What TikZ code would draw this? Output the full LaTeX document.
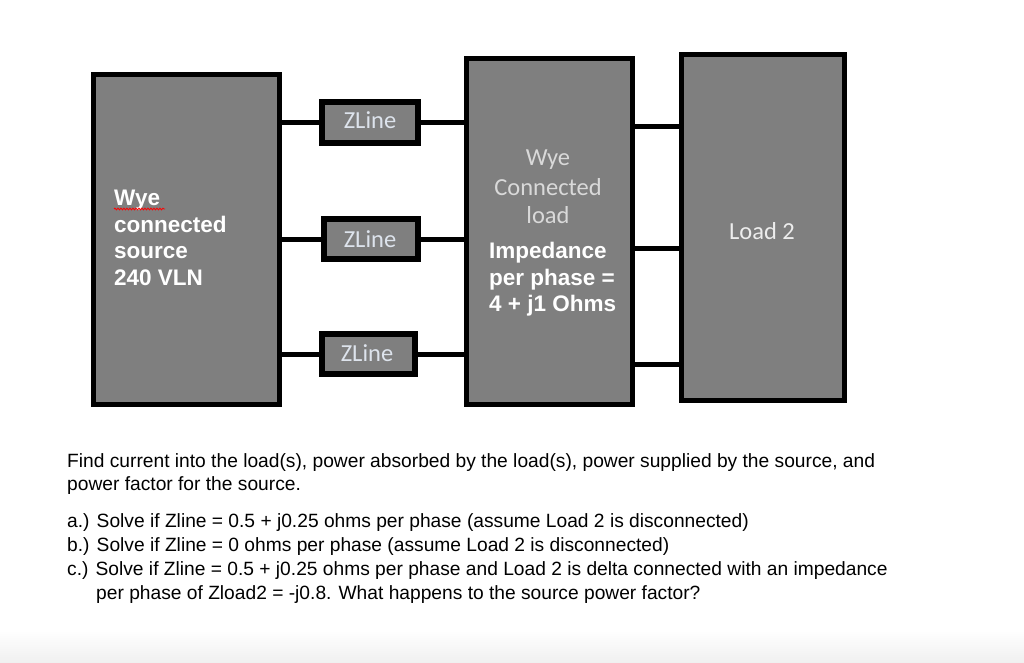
\documentclass[tikz,border=0pt]{standalone}
\usepackage{fontspec}
\setmainfont{Liberation Sans}
\newfontfamily\carl{Carlito}
\usetikzlibrary{decorations.pathmorphing}
\definecolor{boxgray}{HTML}{7F7F7F}
\definecolor{zltxt}{HTML}{DDE3EC}
\definecolor{midtxt}{HTML}{D9D9D9}
\begin{document}
\begin{tikzpicture}[x=1pt,y=-1pt,
  bigbox/.style={draw=black,line width=5pt,fill=boxgray,rectangle,inner sep=0pt},
  zbox/.style={draw=black,line width=6pt,fill=boxgray,rectangle,inner sep=0pt},
  wire/.style={draw=black,line width=5pt},
  boldtxt/.style={anchor=base west,inner sep=0pt,text=white,font=\bfseries\fontsize{22.5}{26}\selectfont},
  calt/.style={anchor=base,inner sep=0pt,text=midtxt,font=\carl\fontsize{24.5}{28}\selectfont},
  qtxt/.style={anchor=base west,inner sep=0pt,text=black,font=\fontsize{19.2}{23}\selectfont}]
\useasboundingbox (0,0) rectangle (1024,663);
\fill[white] (0,0) rectangle (1024,663);
\shade[top color=white,bottom color=black!6] (0,630) rectangle (1024,663);

% boxes
\node[bigbox,minimum width=186pt,minimum height=330pt] (src) at (186.5,239.5) {};
\node[bigbox,minimum width=166pt,minimum height=346pt] (mid) at (549.5,231.5) {};
\node[bigbox,minimum width=163pt,minimum height=346pt] (ld2) at (763,227.5) {};
\node[zbox,minimum width=96pt,minimum height=41pt] (z1) at (370,122.5) {};
\node[zbox,minimum width=94pt,minimum height=40pt] (z2) at (371,239) {};
\node[zbox,minimum width=93pt,minimum height=40pt] (z3) at (368.5,354) {};

% wires
\draw[wire] (src.east |- z1.west) -- (z1.west);
\draw[wire] (z1.east) -- (mid.west |- z1.east);
\draw[wire] (src.east |- z2.west) -- (z2.west);
\draw[wire] (z2.east) -- (mid.west |- z2.east);
\draw[wire] (src.east |- z3.west) -- (z3.west);
\draw[wire] (z3.east) -- (mid.west |- z3.east);
\coordinate (w1) at (0,127);
\coordinate (w2) at (0,248);
\coordinate (w3) at (0,364);
\draw[wire] (mid.east |- w1) -- (ld2.west |- w1);
\draw[wire] (mid.east |- w2) -- (ld2.west |- w2);
\draw[wire] (mid.east |- w3) -- (ld2.west |- w3);

% ZLine labels
\node[calt,text=zltxt] (zl1) at (370,129) {ZLine};
\node[calt,text=zltxt] (zl2) at (370,247) {ZLine};
\node[calt,text=zltxt] (zl3) at (367,361) {ZLine};

% source text
\node[boldtxt] (s1) at (114,205) {Wye};
\node[boldtxt] (s2) at (114,232) {connected};
\node[boldtxt] (s3) at (114,258) {source};
\node[boldtxt] (s4) at (114,285) {240 VLN};
\draw[red,line width=0.8pt,decorate,decoration={snake,amplitude=0.9pt,segment length=3pt}] (114,209) -- (165,209);

% middle text
\node[calt] (m1) at (548,166) {Wye};
\node[calt] (m2) at (548,195) {Connected};
\node[calt] (m3) at (548,223) {load};
\node[boldtxt] (m4) at (489,258) {Impedance};
\node[boldtxt] (m5) at (489,285) {per phase =};
\node[boldtxt] (m6) at (489,311) {4 + j1 Ohms};

% load 2
\node[calt,text=black!7] (l2) at (762,239) {Load 2};

% question text
\node[qtxt] (q1) at (67,467) {Find current into the load(s), power absorbed by the load(s), power supplied by the source, and};
\node[qtxt] (q2) at (67,490) {power factor for the source.};
\node[qtxt] (q3) at (67,527) {a.) Solve if Zline = 0.5 + j0.25 ohms per phase (assume Load 2 is disconnected)};
\node[qtxt] (q4) at (67,551) {b.) Solve if Zline = 0 ohms per phase (assume Load 2 is disconnected)};
\node[qtxt] (q5) at (67,575) {c.) Solve if Zline = 0.5 + j0.25 ohms per phase and Load 2 is delta connected with an impedance};
\node[qtxt] (q6) at (96,599) {per phase of Zload2 = -j0.8. What happens to the source power factor?};
\end{tikzpicture}
\end{document}
